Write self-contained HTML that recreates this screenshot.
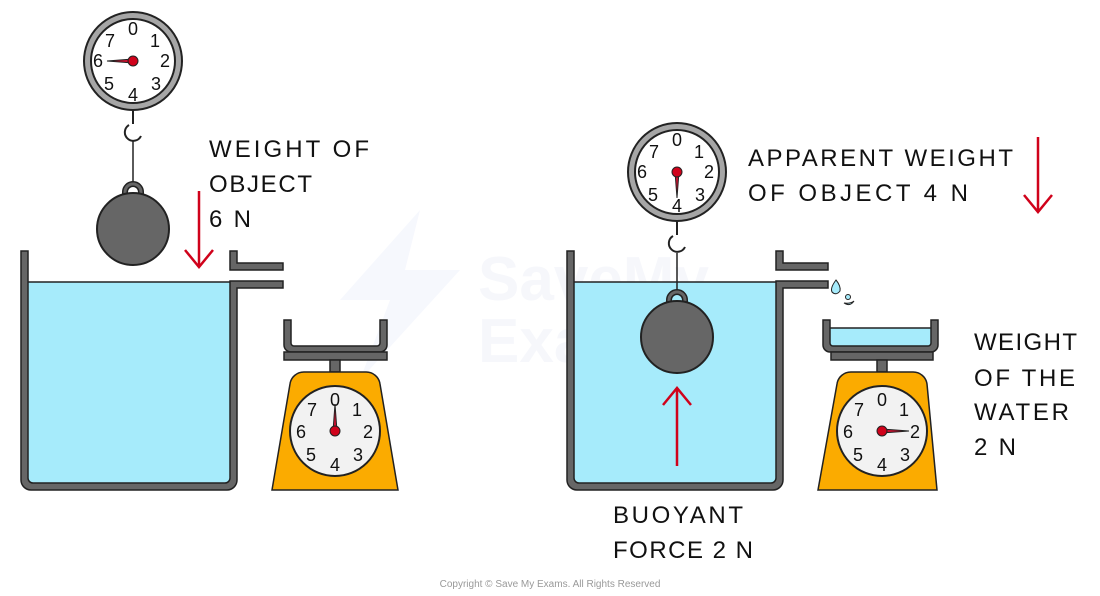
<!DOCTYPE html>
<html><head><meta charset="utf-8"><style>html,body{margin:0;padding:0;background:#fff}svg{display:block}</style></head><body>
<svg width="1100" height="596" viewBox="0 0 1100 596" xmlns="http://www.w3.org/2000/svg" font-family="Liberation Sans, sans-serif">
<!-- watermark -->
<text x="478" y="300" font-size="62" font-weight="bold" fill="#f6f7fb">SaveMy</text>
<text x="478" y="362" font-size="62" font-weight="bold" fill="#f6f7fb">Exams</text>
<polygon points="420,210 340,300 390,300 360,380 460,270 405,270" fill="#f6f8fd"/>

<!-- LEFT hanging dial -->
<circle cx="133" cy="61" r="49" fill="#a6a6a6" stroke="#222" stroke-width="2"/>
<circle cx="133" cy="61" r="42" fill="#fff" stroke="#222" stroke-width="2"/>
<g font-size="18" text-anchor="middle" fill="#111">
<text x="133" y="35">0</text><text x="155" y="47">1</text><text x="165" y="67">2</text><text x="156" y="90">3</text><text x="133" y="101">4</text><text x="109" y="90">5</text><text x="98" y="67">6</text><text x="110" y="47">7</text>
</g>
<polygon points="133,59 107,61 133,63" fill="#c8102e" stroke="#222" stroke-width="1"/>
<circle cx="133" cy="61" r="5" fill="#d0021b" stroke="#222" stroke-width="1"/>
<line x1="133" y1="110" x2="133" y2="124" stroke="#222" stroke-width="2"/>
<path d="M129,125 A8.5,8.5 0 1 0 141,136" fill="none" stroke="#222" stroke-width="2"/>
<line x1="133" y1="141" x2="133" y2="186" stroke="#222" stroke-width="1.5"/>
<path d="M125,198 v-6 a8,8 0 0 1 16,0 v6" fill="none" stroke="#222" stroke-width="6"/>
<path d="M125,198 v-6 a8,8 0 0 1 16,0 v6" fill="none" stroke="#666" stroke-width="3"/>
<circle cx="133" cy="229" r="36" fill="#666" stroke="#222" stroke-width="2"/>
<line x1="199" y1="191" x2="199" y2="266" stroke="#d0021b" stroke-width="2.5"/>
<polyline points="185,250 199,267 213,250" fill="none" stroke="#d0021b" stroke-width="2.5"/>
<g font-size="24" fill="#111">
<text x="209" y="157" textLength="160">WEIGHT  OF</text>
<text x="209" y="192" textLength="103">OBJECT</text>
<text x="209" y="227" textLength="42">6 N</text>
</g>

<!-- LEFT tank -->
<rect x="28" y="282" width="203" height="204" fill="#a6ebfb"/>
<line x1="28" y1="282" x2="231" y2="282" stroke="#222" stroke-width="1.5"/>
<path d="M21,251 V480 a10,10 0 0 0 10,10 H227 a10,10 0 0 0 10,-10 V288 H283 V281 H230 V478 a5,5 0 0 1 -5,5 H33 a5,5 0 0 1 -5,-5 V251 Z" fill="#666" stroke="#222" stroke-width="1.5"/>
<path d="M230,251 H237 V263 H283 V270 H230 Z" fill="#666" stroke="#222" stroke-width="1.5"/>

<!-- LEFT scale -->
<path d="M284,320 V345 a7,7 0 0 0 7,7 H380 a7,7 0 0 0 7,-7 V320 H380 V343 a3,3 0 0 1 -3,3 H294 a3,3 0 0 1 -3,-3 V320 Z" fill="#666" stroke="#222" stroke-width="1.5"/>
<rect x="284" y="352" width="103" height="8" fill="#666" stroke="#222" stroke-width="1.5"/>
<rect x="330" y="360" width="10" height="12" fill="#666" stroke="#222" stroke-width="1.5"/>
<path d="M304,372 H366 a14,14 0 0 1 14,12 L398,490 H272 L290,384 a14,14 0 0 1 14,-12 Z" fill="#fbab00" stroke="#222" stroke-width="1.5"/>
<circle cx="335" cy="431" r="45" fill="#f2f2f2" stroke="#222" stroke-width="2"/>
<g font-size="18" text-anchor="middle" fill="#111">
<text x="335" y="406">0</text><text x="357" y="416">1</text><text x="368" y="438">2</text><text x="358" y="461">3</text><text x="335" y="471">4</text><text x="311" y="461">5</text><text x="301" y="438">6</text><text x="312" y="416">7</text>
</g>
<polygon points="333,431 335,404 337,431" fill="#c8102e" stroke="#222" stroke-width="1"/>
<circle cx="335" cy="431" r="5" fill="#d0021b" stroke="#222" stroke-width="1"/>

<!-- RIGHT tank -->
<rect x="574" y="282" width="203" height="204" fill="#a6ebfb"/>
<line x1="574" y1="282" x2="777" y2="282" stroke="#222" stroke-width="1.5"/>
<path d="M567,251 V480 a10,10 0 0 0 10,10 H773 a10,10 0 0 0 10,-10 V288 H828 V281 H776 V478 a5,5 0 0 1 -5,5 H579 a5,5 0 0 1 -5,-5 V251 Z" fill="#666" stroke="#222" stroke-width="1.5"/>
<path d="M776,251 H783 V263 H828 V270 H776 Z" fill="#666" stroke="#222" stroke-width="1.5"/>
<path d="M836,280 q-6,8 -4,12 q4,4 8,-1 q1,-5 -4,-11 Z" fill="#a6ebfb" stroke="#222" stroke-width="1"/>
<circle cx="848" cy="297" r="2.5" fill="#a6ebfb" stroke="#222" stroke-width="1"/>
<path d="M844,303 q6,4 10,-2 q-4,3 -10,2 Z" fill="#a6ebfb" stroke="#222" stroke-width="1"/>

<!-- RIGHT hanging dial -->
<circle cx="677" cy="172" r="49" fill="#a6a6a6" stroke="#222" stroke-width="2"/>
<circle cx="677" cy="172" r="42" fill="#fff" stroke="#222" stroke-width="2"/>
<g font-size="18" text-anchor="middle" fill="#111">
<text x="677" y="146">0</text><text x="699" y="158">1</text><text x="709" y="178">2</text><text x="700" y="201">3</text><text x="677" y="212">4</text><text x="653" y="201">5</text><text x="642" y="178">6</text><text x="654" y="158">7</text>
</g>
<polygon points="675,172 677,198 679,172" fill="#c8102e" stroke="#222" stroke-width="1"/>
<circle cx="677" cy="172" r="5" fill="#d0021b" stroke="#222" stroke-width="1"/>
<line x1="677" y1="221" x2="677" y2="235" stroke="#222" stroke-width="2"/>
<path d="M673,236 A8.5,8.5 0 1 0 685,247" fill="none" stroke="#222" stroke-width="2"/>
<line x1="677" y1="253" x2="677" y2="294" stroke="#222" stroke-width="1.5"/>
<path d="M669,306 v-6 a8,8 0 0 1 16,0 v6" fill="none" stroke="#222" stroke-width="6"/>
<path d="M669,306 v-6 a8,8 0 0 1 16,0 v6" fill="none" stroke="#666" stroke-width="3"/>
<circle cx="677" cy="337" r="36" fill="#666" stroke="#222" stroke-width="2"/>
<line x1="677" y1="466" x2="677" y2="390" stroke="#d0021b" stroke-width="2.5"/>
<polyline points="663,405 677,388 691,405" fill="none" stroke="#d0021b" stroke-width="2.5"/>
<line x1="1038" y1="137" x2="1038" y2="211" stroke="#d0021b" stroke-width="2.5"/>
<polyline points="1024,195 1038,212 1052,195" fill="none" stroke="#d0021b" stroke-width="2.5"/>
<g font-size="24" fill="#111">
<text x="748" y="166" textLength="265">APPARENT  WEIGHT</text>
<text x="748" y="201" textLength="220">OF  OBJECT  4 N</text>
<text x="974" y="350" textLength="103">WEIGHT</text>
<text x="974" y="386" textLength="101">OF THE</text>
<text x="974" y="420" textLength="95">WATER</text>
<text x="974" y="455" textLength="42">2 N</text>
<text x="613" y="523" textLength="130">BUOYANT</text>
<text x="613" y="558" textLength="140">FORCE  2 N</text>
</g>

<!-- RIGHT scale -->
<rect x="830" y="328" width="101" height="18" fill="#a6ebfb"/>
<line x1="830" y1="328" x2="931" y2="328" stroke="#222" stroke-width="1.5"/>
<path d="M823,320 V345 a7,7 0 0 0 7,7 H931 a7,7 0 0 0 7,-7 V320 H931 V343 a3,3 0 0 1 -3,3 H833 a3,3 0 0 1 -3,-3 V320 Z" fill="#666" stroke="#222" stroke-width="1.5"/>
<rect x="831" y="352" width="102" height="8" fill="#666" stroke="#222" stroke-width="1.5"/>
<rect x="877" y="360" width="10" height="12" fill="#666" stroke="#222" stroke-width="1.5"/>
<path d="M851,372 H913 a14,14 0 0 1 14,12 L937,490 H818 L837,384 a14,14 0 0 1 14,-12 Z" fill="#fbab00" stroke="#222" stroke-width="1.5"/>
<circle cx="882" cy="431" r="45" fill="#f2f2f2" stroke="#222" stroke-width="2"/>
<g font-size="18" text-anchor="middle" fill="#111">
<text x="882" y="406">0</text><text x="904" y="416">1</text><text x="915" y="438">2</text><text x="905" y="461">3</text><text x="882" y="471">4</text><text x="858" y="461">5</text><text x="848" y="438">6</text><text x="859" y="416">7</text>
</g>
<polygon points="882,429 909,431 882,433" fill="#c8102e" stroke="#222" stroke-width="1"/>
<circle cx="882" cy="431" r="5" fill="#d0021b" stroke="#222" stroke-width="1"/>

<text x="550" y="587" font-size="10" fill="#999" text-anchor="middle">Copyright © Save My Exams. All Rights Reserved</text>
</svg>
</body></html>
